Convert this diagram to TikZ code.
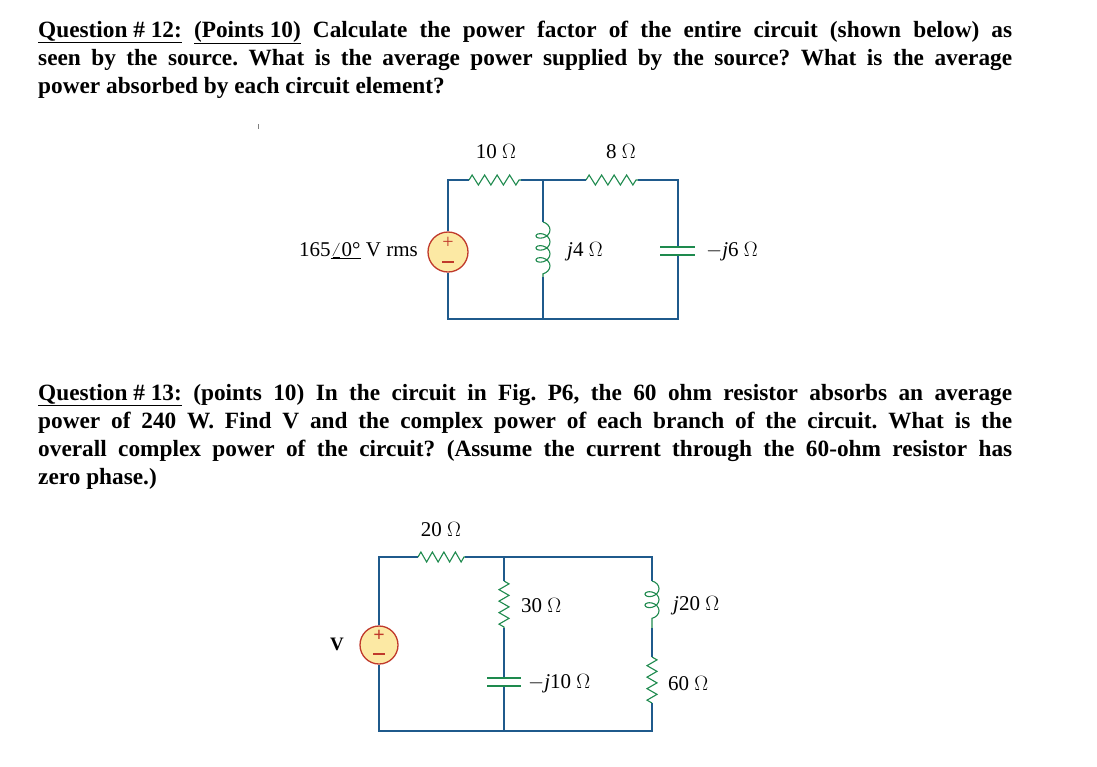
\documentclass[tikz,border=0pt]{standalone}
\usepackage{fontspec}
\setmainfont{Liberation Serif}
\usetikzlibrary{decorations.pathmorphing}
\definecolor{wire}{HTML}{1F5A8C}
\definecolor{comp}{HTML}{1E8A4E}
\definecolor{srcfill}{HTML}{FCE9A4}
\definecolor{srcred}{HTML}{C0392B}
\frenchspacing
\tikzset{
 wires/.style={wire, line width=2.2pt},
 wthin/.style={wire, line width=1.6pt},
 res/.style={comp, line width=1.1pt, decorate, decoration={zigzag, segment length=12.5pt, amplitude=5pt}},
 ind/.style={comp, line width=1.1pt, decorate, decoration={coil, aspect=0.7, segment length=12pt, amplitude=7pt}},
 capl/.style={comp, line width=1.6pt},
 src/.style={circle, draw=srcred, fill=srcfill, line width=1.3pt, minimum size=40pt, inner sep=0pt},
 lbl/.style={font=\fontsize{21}{24}\selectfont, inner sep=0pt},
 para/.style={font=\fontsize{23.3}{28}\selectfont\bfseries, anchor=base west, inner sep=0pt},
}
\begin{document}
\begin{tikzpicture}[x=1pt,y=-1pt]
\useasboundingbox (0,0) rectangle (1097,766);
\fill[white] (0,0) rectangle (1097,766);
% Question 12 text
\node[para] (q12a) at (38,37) {\makebox[974pt][s]{\underline{Question \# 12:} \underline{(Points 10)} Calculate the power factor of the entire circuit (shown below) as}};
\node[para] (q12b) at (38,65) {\makebox[974pt][s]{seen by the source. What is the average power supplied by the source? What is the average}};
\node[para] (q12c) at (38,93) {power absorbed by each circuit element?};
\draw[gray, line width=0.8pt] (258,124) -- (258,129);
% Circuit 1
\coordinate (a1) at (448,180); \coordinate (b1) at (543,180); \coordinate (c1) at (678,180);
\coordinate (d1) at (448,319); \coordinate (e1) at (543,319); \coordinate (f1) at (678,319);
\coordinate (r1a) at (469,180); \coordinate (r1b) at (521,180);
\coordinate (r2a) at (586,180); \coordinate (r2b) at (638,180);
\coordinate (l1a) at (543,222); \coordinate (l1b) at (543,277);
\coordinate (c1a) at (678,247); \coordinate (c1b) at (678,255);
\node[src] (s1) at (448,252) {};
\draw[wires] (s1.north) -- (a1) -- (r1a);
\draw[wires] (r1b) -- (r2a);
\draw[wires] (r2b) -- (c1) -- (c1a);
\draw[wires] (c1b) -- (f1) -- (d1) -- (s1.south);
\draw[wires] (b1) -- (l1a); \draw[wires] (l1b) -- (e1);
\draw[res] (r1a) -- (r1b);
\draw[res] (r2a) -- (r2b);
\draw[ind] (l1a) -- (l1b);
\draw[capl] (660,247) -- (695,247); \draw[capl] (660,255) -- (695,255);
\node[srcred, font=\fontsize{20}{20}\selectfont, inner sep=0pt] (p1) at (448,243) {+};
\draw[srcred, line width=1.2pt] (442,262) -- (454,262);
\node[lbl] (t10) at (496,152) {10 $\Omega$};
\node[lbl] (t8) at (621,152) {8 $\Omega$};
\node[lbl, anchor=east] (tv1) at (418,251) {165\underline{$\angle$0°} V rms};
\node[lbl, anchor=west] (tj4) at (567,252) {\textit{j}4 $\Omega$};
\node[lbl, anchor=west] (tj6) at (706,252) {$-$\textit{j}6 $\Omega$};
% Question 13 text
\node[para] (q13a) at (38,400) {\makebox[974pt][s]{\underline{Question \# 13:} (points 10) In the circuit in Fig. P6, the 60 ohm resistor absorbs an average}};
\node[para] (q13b) at (38,428) {\makebox[974pt][s]{power of 240 W. Find V and the complex power of each branch of the circuit. What is the}};
\node[para] (q13c) at (38,456) {\makebox[974pt][s]{overall complex power of the circuit? (Assume the current through the 60-ohm resistor has}};
\node[para] (q13d) at (38,484) {zero phase.)};
% Circuit 2
\coordinate (a2) at (379,557); \coordinate (b2) at (504,557); \coordinate (c2) at (652,557);
\coordinate (d2) at (379,731); \coordinate (e2) at (504,731); \coordinate (f2) at (652,731);
\coordinate (r3a) at (418,557); \coordinate (r3b) at (465,557);
\coordinate (r4a) at (504,581); \coordinate (r4b) at (504,628);
\coordinate (c2a) at (504,678); \coordinate (c2b) at (504,686);
\coordinate (l2a) at (652,581); \coordinate (l2b) at (652,628);
\coordinate (r5a) at (652,657); \coordinate (r5b) at (652,703);
\node[src, minimum size=38pt] (s2) at (379,645) {};
\draw[wthin] (s2.north) -- (a2) -- (r3a);
\draw[wthin] (r3b) -- (c2) -- (l2a);
\draw[wthin] (b2) -- (r4a); \draw[wthin] (r4b) -- (c2a); \draw[wthin] (c2b) -- (e2);
\draw[wthin] (l2b) -- (r5a); \draw[wthin] (r5b) -- (f2) -- (d2) -- (s2.south);
\draw[res, decoration={segment length=11.5pt}] (r3a) -- (r3b);
\draw[res, decoration={segment length=11.5pt}] (r4a) -- (r4b);
\draw[res, decoration={segment length=11.5pt}] (r5a) -- (r5b);
\draw[ind, decoration={segment length=11pt}] (l2a) -- (l2b);
\draw[capl] (487,678) -- (521,678); \draw[capl] (487,686) -- (521,686);
\node[srcred, font=\fontsize{20}{20}\selectfont\bfseries, inner sep=0pt] (p2) at (379,636) {+};
\draw[srcred, line width=1.5pt] (373,654) -- (385,654);
\node[lbl] (t20) at (441,530) {20 $\Omega$};
\node[lbl, anchor=west] (t30) at (521,606) {30 $\Omega$};
\node[lbl, anchor=west] (t10c) at (528,684) {$-$\textit{j}10 $\Omega$};
\node[lbl, anchor=west] (tj20) at (673,606) {\textit{j}20 $\Omega$};
\node[lbl, anchor=west] (t60) at (668,684) {60 $\Omega$};
\node[lbl, font=\fontsize{19}{22}\selectfont\bfseries] (tV) at (337,644) {V};
\end{tikzpicture}
\end{document}
